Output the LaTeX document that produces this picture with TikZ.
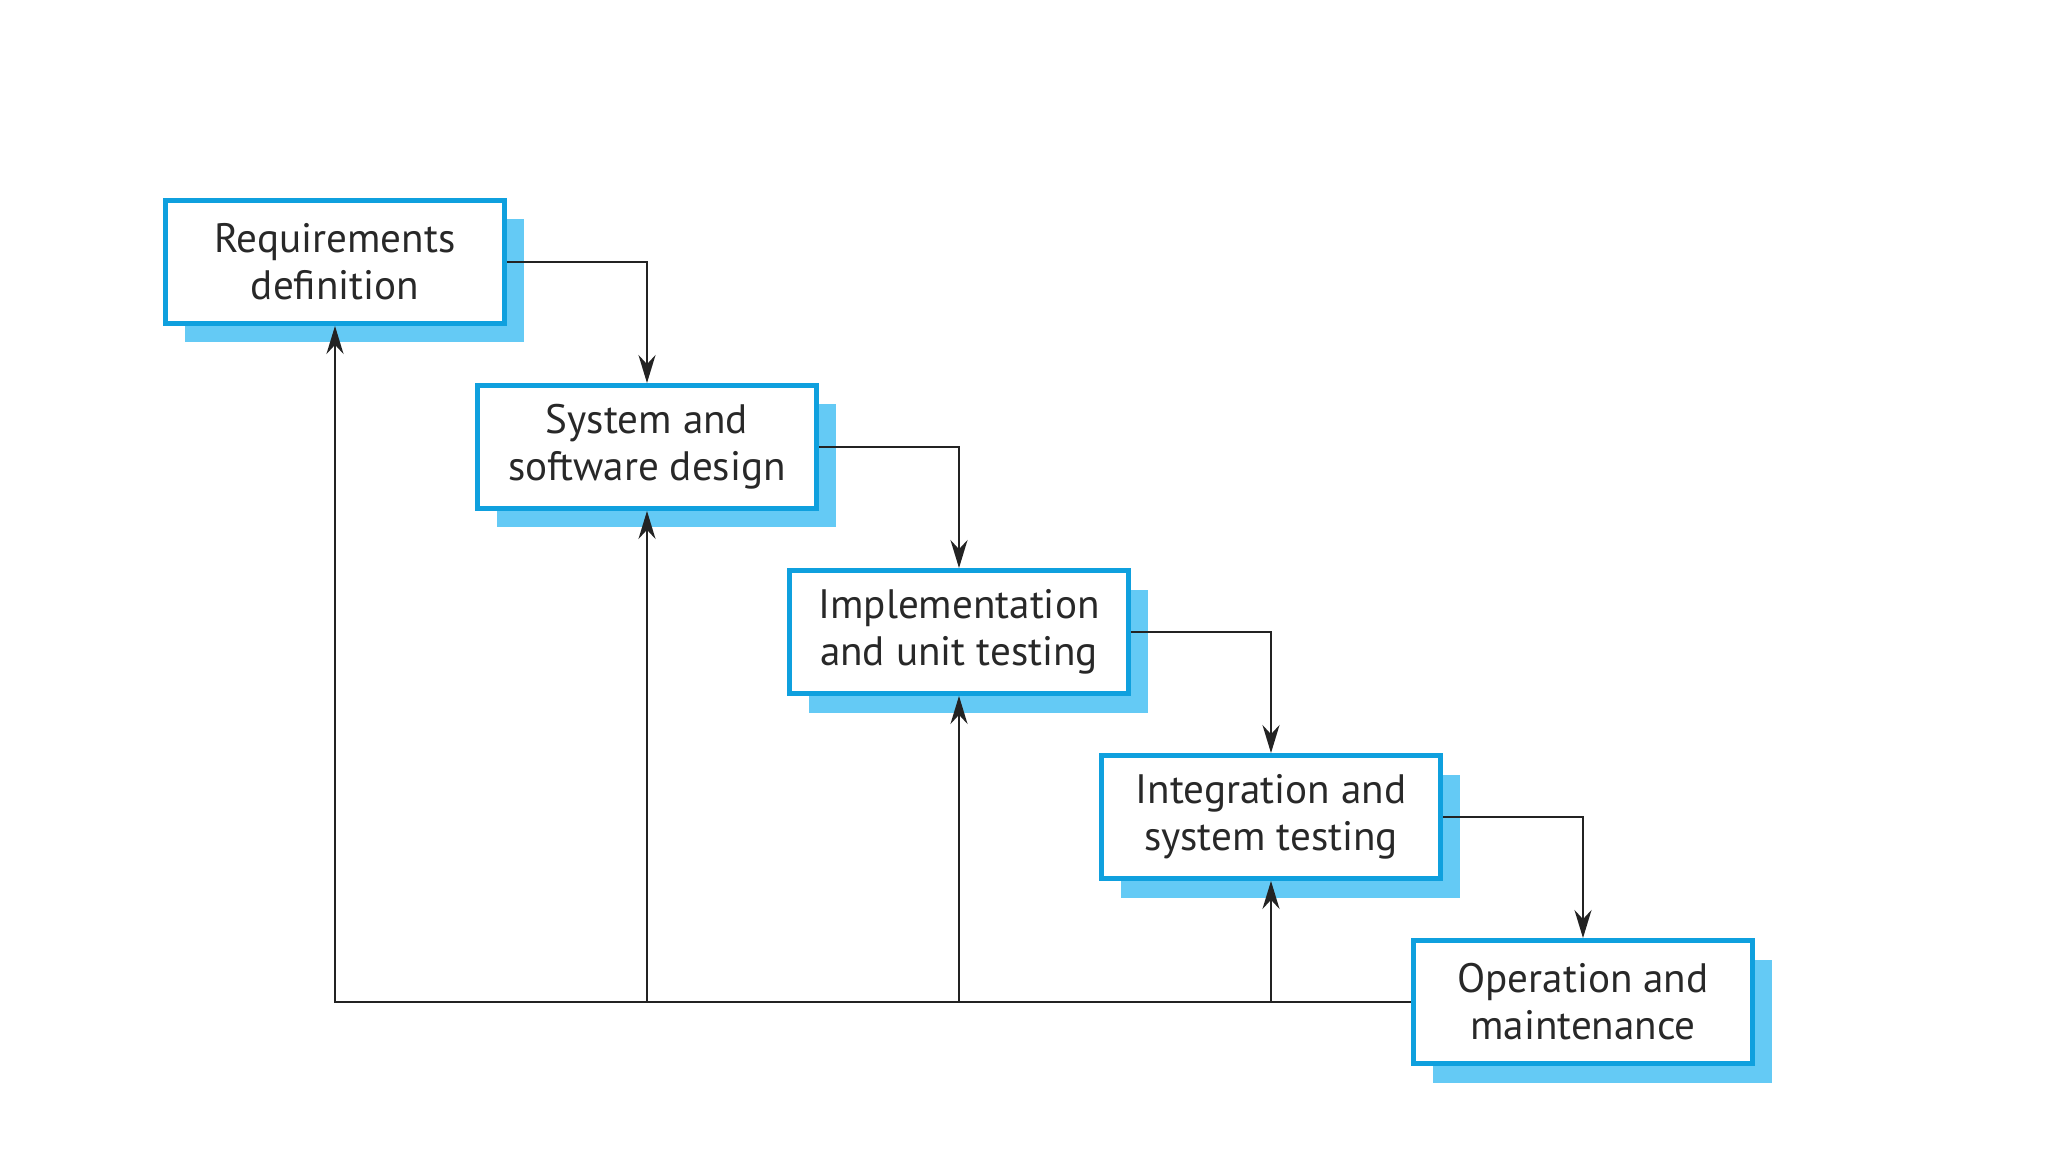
\documentclass[tikz,border=0pt]{standalone}
\usepackage{fontspec}
\setmainfont{PT Sans}
\usetikzlibrary{arrows.meta,shadows}

\definecolor{boxline}{RGB}{15,160,222}
\definecolor{boxshade}{RGB}{100,202,245}
\definecolor{textgray}{RGB}{40,40,40}
\definecolor{linkgray}{RGB}{35,35,35}

\tikzset{
  phase/.style={draw=boxline, line width=1.4pt, fill=white, align=center,
    minimum width=3.39cm, minimum height=1.23cm, inner sep=0pt,
    text=textgray, font=\fontsize{11.7}{13.4}\selectfont,
    drop shadow={shadow xshift=0.19cm, shadow yshift=-0.19cm, fill=boxshade, opacity=1}},
  link/.style={draw=linkgray, line width=0.75pt, -{Stealth[length=2.8mm,width=1.7mm]}}
}

\begin{document}
\begin{tikzpicture}
\useasboundingbox (0,0) rectangle (20.48,-11.52);

\node[phase] (req) at (3.35,-2.62) {Requirements\\definition};
\node[phase] (sys) at (6.47,-4.47) {System and\\software design};
\node[phase] (impl) at (9.59,-6.32) {Implementation\\and unit testing};
\node[phase] (integ) at (12.71,-8.17) {Integration and\\system testing};
\node[phase] (oper) at (15.83,-10.02) {Operation and\\maintenance};

% forward steps
\draw[link] (req.east) -| (sys.north);
\draw[link] (sys.east) -| (impl.north);
\draw[link] (impl.east) -| (integ.north);
\draw[link] (integ.east) -| (oper.north);

% feedback
\draw[link] (oper.west) -| (req.south);
\draw[link] (oper.west -| sys.south) -- (sys.south);
\draw[link] (oper.west -| impl.south) -- (impl.south);
\draw[link] (oper.west -| integ.south) -- (integ.south);
\end{tikzpicture}
\end{document}
